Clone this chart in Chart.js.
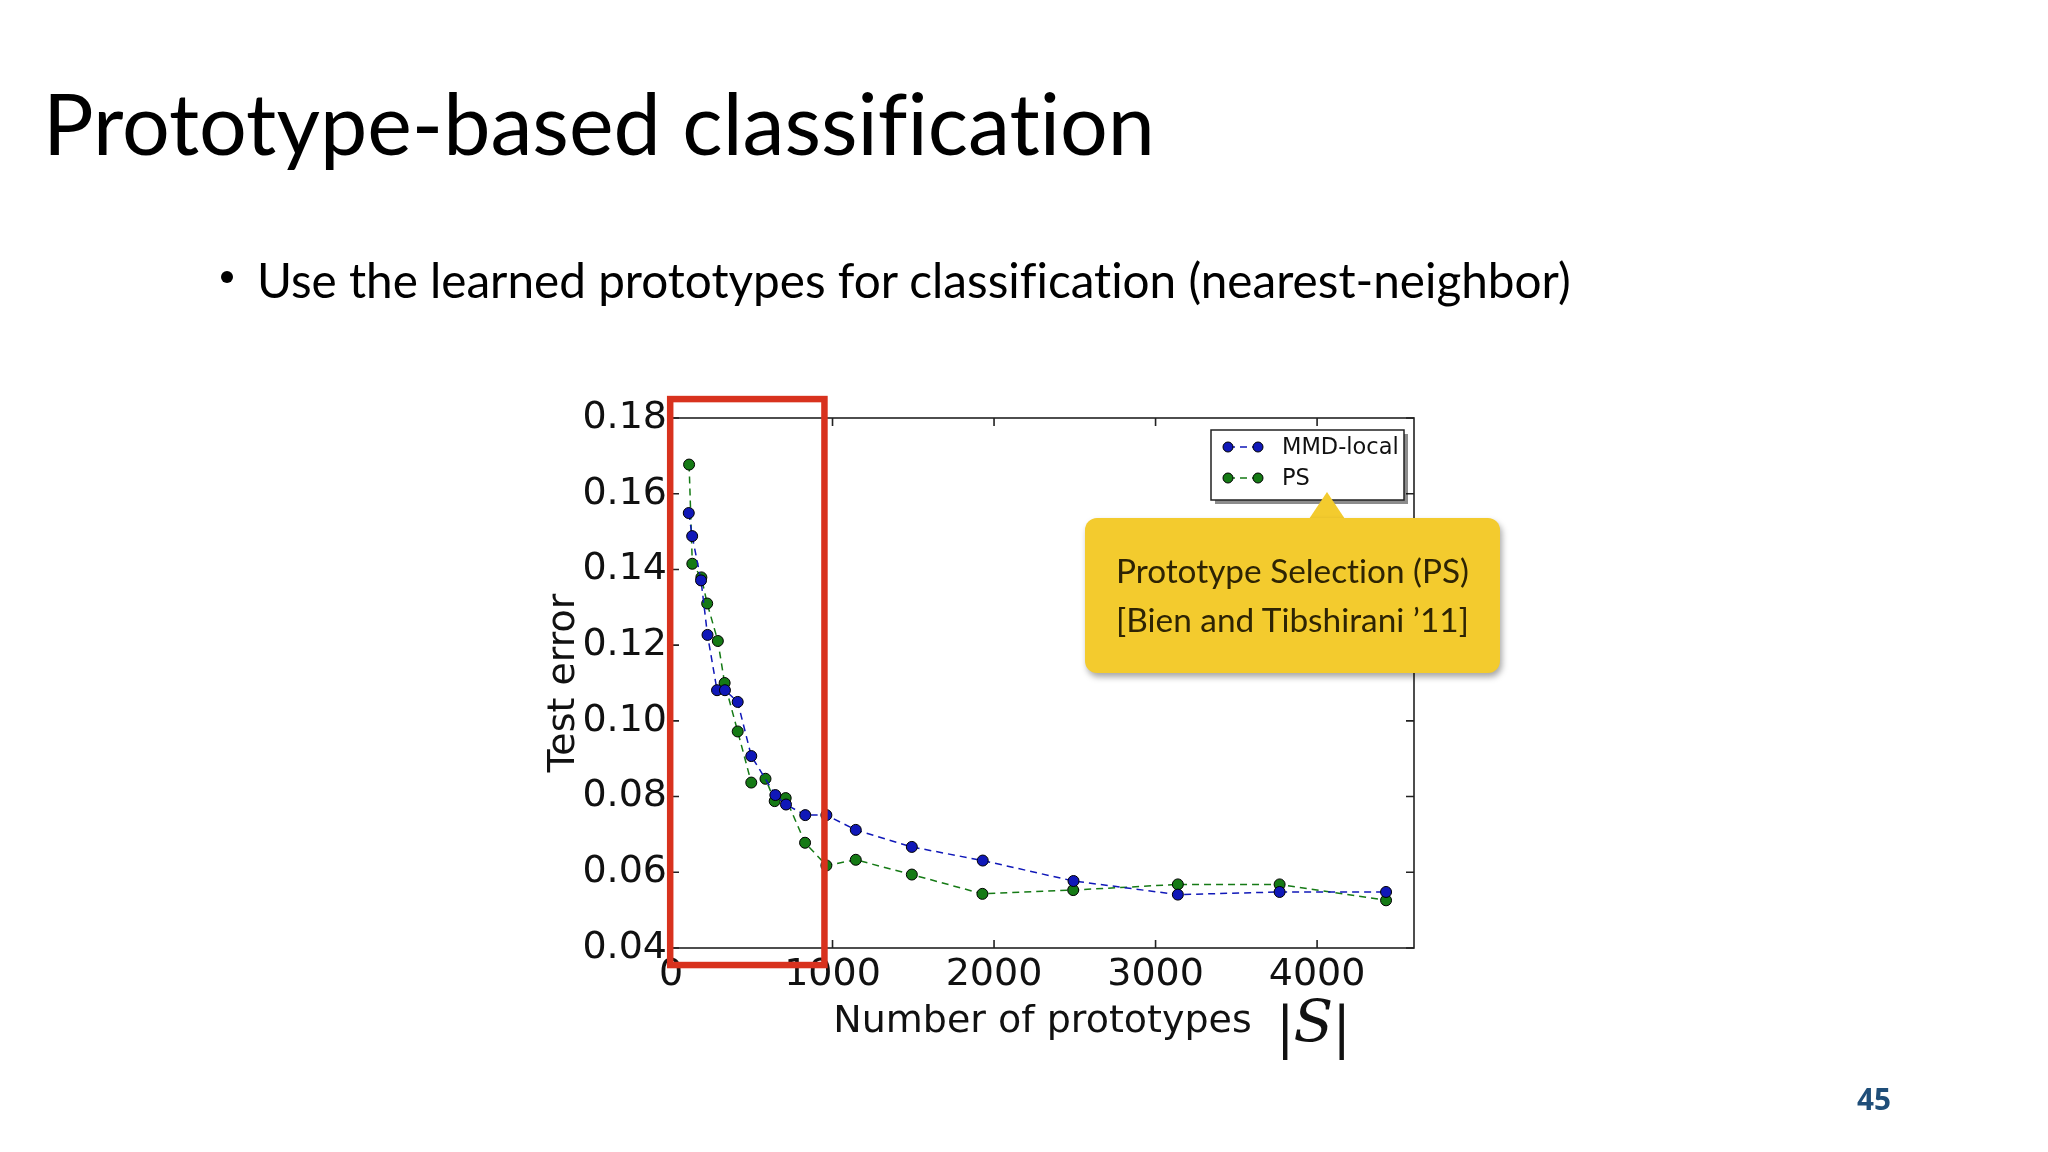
<!DOCTYPE html>
<html><head><meta charset="utf-8">
<script src="https://cdn.jsdelivr.net/npm/chart.js@4.4.1/dist/chart.umd.min.js"></script>
<style>
html,body{margin:0;padding:0;background:#fff;}
body{width:2048px;height:1152px;position:relative;overflow:hidden;}
#c{position:absolute;left:0;top:0;}
.t{position:absolute;white-space:nowrap;line-height:1;margin:0;left:0;top:0;font-variant-ligatures:none;font-feature-settings:"liga" 0,"clig" 0,"dlig" 0;}
#title{font-family:Lato,"Open Sans",sans-serif;color:#000;font-size:90px;}
#bullet{font-family:Lato,"Open Sans",sans-serif;color:#000;font-size:50px;}
#dot{position:absolute;left:221px;top:271px;width:12px;height:12px;border-radius:50%;background:#000;}
#callout{position:absolute;left:1085px;top:518px;width:415px;height:155px;background:#F3CB2E;border-radius:12px;box-shadow:2px 4px 6px rgba(0,0,0,0.35);}
#tip{position:absolute;left:1309px;top:492px;width:36px;height:27px;background:#F3CB2E;clip-path:polygon(50% 0,100% 100%,0 100%);}
.ct{font-family:Lato,"Open Sans",sans-serif;color:#2e2404;font-size:30px;}
#pg{font-family:"Open Sans",Lato,sans-serif;font-weight:bold;color:#1F4E79;font-size:30px;}
</style></head><body>
<canvas id="c" width="2048" height="1152"></canvas>
<div id="title" class="t">Prototype-based classification</div>
<div id="dot"></div>
<div id="bullet" class="t">Use the learned prototypes for classification (nearest-neighbor)</div>
<div id="tip"></div>
<div id="callout"></div>
<div id="c1" class="t ct">Prototype Selection (PS)</div>
<div id="c2" class="t ct">[Bien and Tibshirani ’11]</div>
<div id="pg" class="t">45</div>
<script>
// ---- data ----
const seriesNames = ['MMD-local', 'PS'];
const mmdX = [110, 131, 186, 226, 285, 334, 413, 497, 646, 712, 831, 962, 1144, 1491, 1930, 2492, 3138, 3768, 4427];
const mmdY = [0.1549, 0.1488, 0.1371, 0.1227, 0.1081, 0.1081, 0.1050, 0.0907, 0.0804, 0.0779, 0.0751, 0.0751, 0.0712, 0.0667, 0.0631, 0.0577, 0.0541, 0.0548, 0.0548];
const psX = [112, 132, 188, 224, 290, 332, 413, 497, 585, 642, 710, 830, 962, 1144, 1491, 1928, 2490, 3138, 3768, 4427];
const psY = [0.1677, 0.1415, 0.1379, 0.1310, 0.1211, 0.1100, 0.0972, 0.0837, 0.0847, 0.0788, 0.0796, 0.0678, 0.0618, 0.0633, 0.0594, 0.0543, 0.0553, 0.0568, 0.0568, 0.0526];
const xTicks = [0, 1000, 2000, 3000, 4000];
const yTicks = [0.04, 0.06, 0.08, 0.10, 0.12, 0.14, 0.16, 0.18];
const xRange = [0, 4600];
const yRange = [0.04, 0.18];
const highlightX = [-5, 950];
const highlightY = [0.0355, 0.185];

const colors = ['#1018b8', '#157a15'];
const pts = (xs, ys) => xs.map((x, i) => ({x: x, y: ys[i]}));

function ds(label, data, color) {
  return {label, data, borderColor: color, backgroundColor: color, borderWidth: 1.5,
    borderDash: [7, 5], pointRadius: 5.5, pointHoverRadius: 5.5, pointBackgroundColor: color,
    pointBorderColor: '#000', pointBorderWidth: 1, fill: false, tension: 0, showLine: true};
}

const framePlugin = {
  id: 'frame',
  afterDraw(chart) {
    const {ctx, chartArea: a, scales} = chart;
    const xs = scales.x, ys = scales.y;
    ctx.save();
    // spines
    ctx.strokeStyle = '#222'; ctx.lineWidth = 1.6; ctx.setLineDash([]);
    ctx.strokeRect(a.left, a.top, a.right - a.left, a.bottom - a.top);
    // inward ticks
    ctx.beginPath();
    const L = 8;
    xTicks.forEach(v => { const p = xs.getPixelForValue(v);
      ctx.moveTo(p, a.bottom); ctx.lineTo(p, a.bottom - L);
      ctx.moveTo(p, a.top); ctx.lineTo(p, a.top + L); });
    yTicks.forEach(v => { const p = ys.getPixelForValue(v);
      ctx.moveTo(a.left, p); ctx.lineTo(a.left + L, p);
      ctx.moveTo(a.right, p); ctx.lineTo(a.right - L, p); });
    ctx.stroke();
    // legend
    const w = 193, h = 70, lx = a.right - 203, ly = a.top + 12;
    ctx.fillStyle = 'rgba(0,0,0,0.45)'; ctx.fillRect(lx + 4, ly + 4, w, h);
    ctx.fillStyle = '#fff'; ctx.fillRect(lx, ly, w, h);
    ctx.strokeStyle = '#222'; ctx.lineWidth = 1.5; ctx.strokeRect(lx, ly, w, h);
    chart.data.datasets.forEach((d, i) => {
      const yy = ly + 17 + i * 31;
      ctx.strokeStyle = d.borderColor; ctx.lineWidth = 1.5; ctx.setLineDash([7, 5]);
      ctx.beginPath(); ctx.moveTo(lx + 17, yy); ctx.lineTo(lx + 47, yy); ctx.stroke();
      ctx.setLineDash([]);
      [lx + 17, lx + 47].forEach(px => {
        ctx.beginPath(); ctx.arc(px, yy, 5, 0, Math.PI * 2);
        ctx.fillStyle = d.backgroundColor; ctx.fill();
        ctx.strokeStyle = '#000'; ctx.lineWidth = 1; ctx.stroke();
      });
      ctx.fillStyle = '#111'; ctx.font = '22.5px "DejaVu Sans"'; ctx.textBaseline = 'middle'; ctx.textAlign = 'left';
      ctx.fillText(d.label, lx + 71, yy + 1);
    });
    // |S| after x title
    ctx.font = '38px "DejaVu Sans"';
    const tw = ctx.measureText(xs.options.title.text).width;
    const cx = (a.left + a.right) / 2 + xs.options.title.padding.top;
    let sx = cx + tw / 2 + 24;
    const base = 1041;
    ctx.fillStyle = '#111'; ctx.textBaseline = 'alphabetic'; ctx.textAlign = 'left';
    ctx.font = '56px "DejaVu Serif"';
    ctx.fillText('|', sx, base + 6); sx += ctx.measureText('|').width - 1;
    ctx.font = 'italic 58px "DejaVu Serif"';
    ctx.fillText('S', sx, base); sx += ctx.measureText('S').width - 1;
    ctx.font = '56px "DejaVu Serif"';
    ctx.fillText('|', sx, base + 6);
    // red highlight box
    const x0 = xs.getPixelForValue(highlightX[0]), x1 = xs.getPixelForValue(highlightX[1]);
    const y0 = ys.getPixelForValue(highlightY[1]), y1 = ys.getPixelForValue(highlightY[0]);
    ctx.strokeStyle = '#D8321E'; ctx.lineWidth = 6.5; ctx.lineJoin = 'miter';
    ctx.strokeRect(x0, y0, x1 - x0, y1 - y0);
    ctx.restore();
  }
};

const axisFont = {family: 'DejaVu Sans', size: 38};
new Chart(document.getElementById('c'), {
  type: 'line',
  data: {datasets: [ds(seriesNames[0], pts(mmdX, mmdY), colors[0]), ds(seriesNames[1], pts(psX, psY), colors[1])]},
  options: {
    responsive: false, animation: false, events: [],
    layout: {padding: {left: 534, right: 634, top: 418, bottom: 104}},
    plugins: {legend: {display: false}, tooltip: {enabled: false}},
    scales: {
      x: {type: 'linear', min: xRange[0], max: xRange[1],
        afterBuildTicks: s => { s.ticks = xTicks.map(v => ({value: v})); },
        afterFit: s => { s.height = 100; },
        grid: {display: false, drawTicks: false}, border: {display: false},
        ticks: {padding: 4, color: '#111', font: axisFont, maxRotation: 0, autoSkip: false, callback: v => String(v)},
        title: {display: true, text: 'Number of prototypes', color: '#111', font: axisFont, padding: {top: 0, bottom: 3}}},
      y: {type: 'linear', min: yRange[0], max: yRange[1],
        afterBuildTicks: s => { s.ticks = yTicks.map(v => ({value: v})); },
        afterFit: s => { s.width = 137; },
        grid: {display: false, drawTicks: false}, border: {display: false},
        ticks: {padding: 4, color: '#111', font: axisFont, autoSkip: false, callback: v => v.toFixed(2)},
        title: {display: true, text: 'Test error', color: '#111', font: axisFont, padding: {top: 7, bottom: 0}}}
    }
  },
  plugins: [framePlugin]
});

// ---- text placement ----
function place(id, left, baseline, targetWidth, center) {
  const el = document.getElementById(id);
  if (targetWidth) {
    const fs = parseFloat(getComputedStyle(el).fontSize);
    const w = el.getBoundingClientRect().width;
    el.style.fontSize = (fs * targetWidth / w) + 'px';
  }
  const m = document.createElement('span');
  m.style.cssText = 'display:inline-block;width:0;height:0;vertical-align:baseline;';
  el.appendChild(m);
  const b = m.getBoundingClientRect().top - el.getBoundingClientRect().top;
  const w2 = el.getBoundingClientRect().width;
  el.style.left = (center ? left - w2 / 2 : left) + 'px';
  el.style.top = (baseline - b) + 'px';
}
place('title', 43, 155, 1112);
place('bullet', 257, 298, 1314);
place('c1', 1292.5, 583, 353, true);
place('c2', 1292.5, 632, 353, true);
place('pg', 1857, 1110, 34);
</script>
</body></html>
